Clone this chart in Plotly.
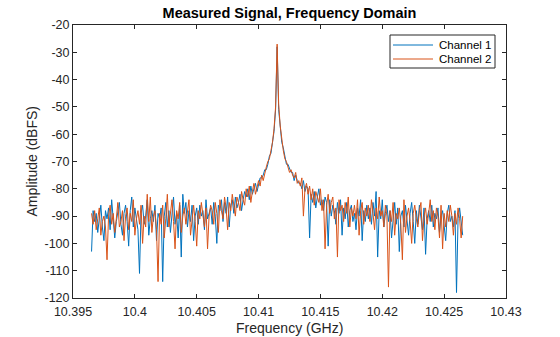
import plotly.graph_objects as go

# Frequency bins (GHz): uniform FFT grid
freq_start = 10.3965
freq_step = 0.000125
n_bins = 241
freq = [freq_start + k * freq_step for k in range(n_bins)]

channel1 = [
    -103, -88, -92, -89, -96, -90, -86, -94, -99, -88,
    -91, -87, -95, -84, -90, -98, -92, -88, -85, -93,
    -97, -89, -86, -92, -101, -88, -83, -94, -87, -91,
    -95, -111, -89, -86, -93, -90, -84, -97, -91, -88,
    -92, -86, -99, -89, -91, -87, -114, -90, -85, -94,
    -88, -96, -90, -83, -93, -89, -98, -86, -105, -82,
    -89, -85, -94, -88, -92, -86, -99, -90, -87, -93,
    -86, -90, -88, -95, -84, -91, -89, -87, -93, -85,
    -90, -100, -86, -88, -84, -92, -85, -89, -83, -94,
    -86, -84, -89, -83, -87, -85, -82, -88, -84, -81,
    -83, -80, -84, -79, -82, -80, -78, -81, -78, -76,
    -76, -75, -73, -73, -71, -68, -67, -62, -59, -51,
    -28,
    -51, -58, -63, -65, -68, -71, -71, -73, -74,
    -74, -77, -75, -77, -78, -78, -80, -77, -81, -79,
    -80, -98, -82, -85, -81, -87, -83, -80, -86, -84,
    -88, -83, -85, -101, -84, -90, -86, -88, -93, -85,
    -89, -84, -97, -87, -91, -85, -94, -88, -86, -92,
    -89, -95, -87, -90, -84, -99, -88, -92, -86, -91,
    -87, -93, -85, -90, -81, -105, -88, -91, -84, -94,
    -89, -86, -92, -88, -98, -90, -85, -93, -87, -103,
    -90, -88, -94, -86, -91, -97, -89, -85, -92, -100,
    -88, -93, -86, -90, -95, -87, -104, -91, -88, -92,
    -86, -94, -89, -91, -87, -96, -90, -88, -93, -99,
    -89, -86, -92, -90, -94, -88, -118, -91, -87, -93,
    -97,
]

channel2 = [
    -89, -93, -88, -95, -91, -87, -97, -92, -90, -94,
    -106, -90, -86, -93, -89, -96, -91, -85, -94, -92,
    -88, -99, -90, -87, -95, -89, -92, -84, -97, -91,
    -88, -93, -86, -100, -90, -94, -82, -92, -83, -96,
    -90, -88, -95, -114, -89, -93, -86, -98, -91, -82,
    -94, -89, -84, -92, -102, -88, -91, -85, -96, -90,
    -87, -93, -89, -84, -97, -90, -86, -92, -101, -88,
    -91, -85, -89, -94, -87, -102, -90, -86, -88, -93,
    -85, -89, -96, -84, -88, -91, -83, -87, -95, -85,
    -88, -82, -86, -90, -83, -85, -88, -81, -84, -86,
    -80, -83, -79, -85, -81, -78, -82, -80, -77, -79,
    -75, -77, -74, -72, -70, -69, -66, -63, -58, -50,
    -27,
    -49, -57, -62, -66, -69, -70, -72, -74, -73,
    -75, -76, -74, -78, -77, -79, -76, -90, -80, -78,
    -82, -79, -84, -80, -86, -81, -83, -85, -80, -88,
    -84, -102, -86, -82, -89, -85, -83, -91, -87, -105,
    -84, -88, -86, -92, -85, -89, -83, -94, -87, -90,
    -86, -91, -84, -97, -88, -85, -93, -87, -90, -86,
    -92, -84, -89, -95, -87, -91, -83, -90, -88, -94,
    -86, -90, -116, -88, -92, -85, -97, -89, -91, -87,
    -93, -106, -84, -96, -90, -87, -92, -100, -89, -86,
    -91, -94, -88, -85, -99, -90, -87, -93, -89, -84,
    -92, -88, -95, -87, -90, -98, -86, -102, -89, -94,
    -88, -92, -86, -90, -97, -89, -93, -87, -91, -98,
    -90,
]

series_names = ["Channel 1", "Channel 2"]
series_colors = ["#0072BD", "#D95319"]

x_tickvals = [10.395, 10.4, 10.405, 10.41, 10.415, 10.42, 10.425, 10.43]
x_ticktext = ["10.395", "10.4", "10.405", "10.41", "10.415", "10.42", "10.425", "10.43"]
y_tickvals = [-120, -110, -100, -90, -80, -70, -60, -50, -40, -30, -20]
y_ticktext = [str(v) for v in y_tickvals]

FONT = "Liberation Sans, Arial, Helvetica, sans-serif"
W, H = 560, 337
L, R, T, B = 73, 54, 25, 39
PW, PH = W - L - R, H - T - B


def px_x(x):
    return (x - L) / PW


def px_y(y):
    return (H - B - y) / PH


fig = go.Figure()
for name, ys, col in zip(series_names, [channel1, channel2], series_colors):
    fig.add_trace(go.Scatter(x=freq, y=ys, mode="lines", name=name,
                             line=dict(color=col, width=1), showlegend=False))

axis_common = dict(
    showgrid=False, zeroline=False, showline=True, linecolor="#262626", linewidth=1,
    mirror="ticks", ticks="inside", ticklen=4, tickcolor="#262626", automargin=False,
    tickfont=dict(family=FONT, size=12.5, color="#262626"),
)

# Legend drawn as box + sample lines + text (MATLAB-style compact legend)
shapes = [dict(type="rect", xref="paper", yref="paper",
               x0=px_x(390), x1=px_x(495), y0=px_y(68), y1=px_y(35),
               line=dict(color="#262626", width=1), fillcolor="white", layer="above")]
annotations = []
for k, (name, col) in enumerate(zip(series_names, series_colors)):
    yy = 45 + 14 * k
    shapes.append(dict(type="line", xref="paper", yref="paper",
                       x0=px_x(393), x1=px_x(433), y0=px_y(yy), y1=px_y(yy),
                       line=dict(color=col, width=1), layer="above"))
    annotations.append(dict(text=name, xref="paper", yref="paper",
                            x=px_x(437), y=px_y(yy), xanchor="left", yanchor="middle",
                            showarrow=False,
                            font=dict(family=FONT, size=11.5, color="#000000")))

# Axis titles as annotations for exact placement
annotations.append(dict(text="Frequency (GHz)", xref="paper", yref="paper",
                        x=0.5, y=px_y(328), xanchor="center", yanchor="middle",
                        showarrow=False, font=dict(family=FONT, size=14, color="#262626")))
annotations.append(dict(text="Amplitude (dBFS)", xref="paper", yref="paper",
                        x=px_x(31), y=0.5, xanchor="center", yanchor="middle",
                        textangle=-90, showarrow=False,
                        font=dict(family=FONT, size=14, color="#262626")))

fig.update_layout(
    width=W, height=H,
    margin=dict(l=L, r=R, t=T, b=B, autoexpand=False),
    paper_bgcolor="white", plot_bgcolor="white",
    title=dict(text="<b>Measured Signal, Frequency Domain</b>", x=(L + W - R) / 2 / W,
               xanchor="center", y=1 - 13 / H, yanchor="middle",
               font=dict(family=FONT, size=14.5, color="#000000")),
    xaxis=dict(range=[10.395, 10.43], tickvals=x_tickvals, ticktext=x_ticktext,
               ticklabelstandoff=2, **axis_common),
    yaxis=dict(range=[-120, -20], tickvals=y_tickvals, ticktext=y_ticktext,
               **axis_common),
    shapes=shapes,
    annotations=annotations,
    showlegend=False,
)

fig.write_html("out.html")
